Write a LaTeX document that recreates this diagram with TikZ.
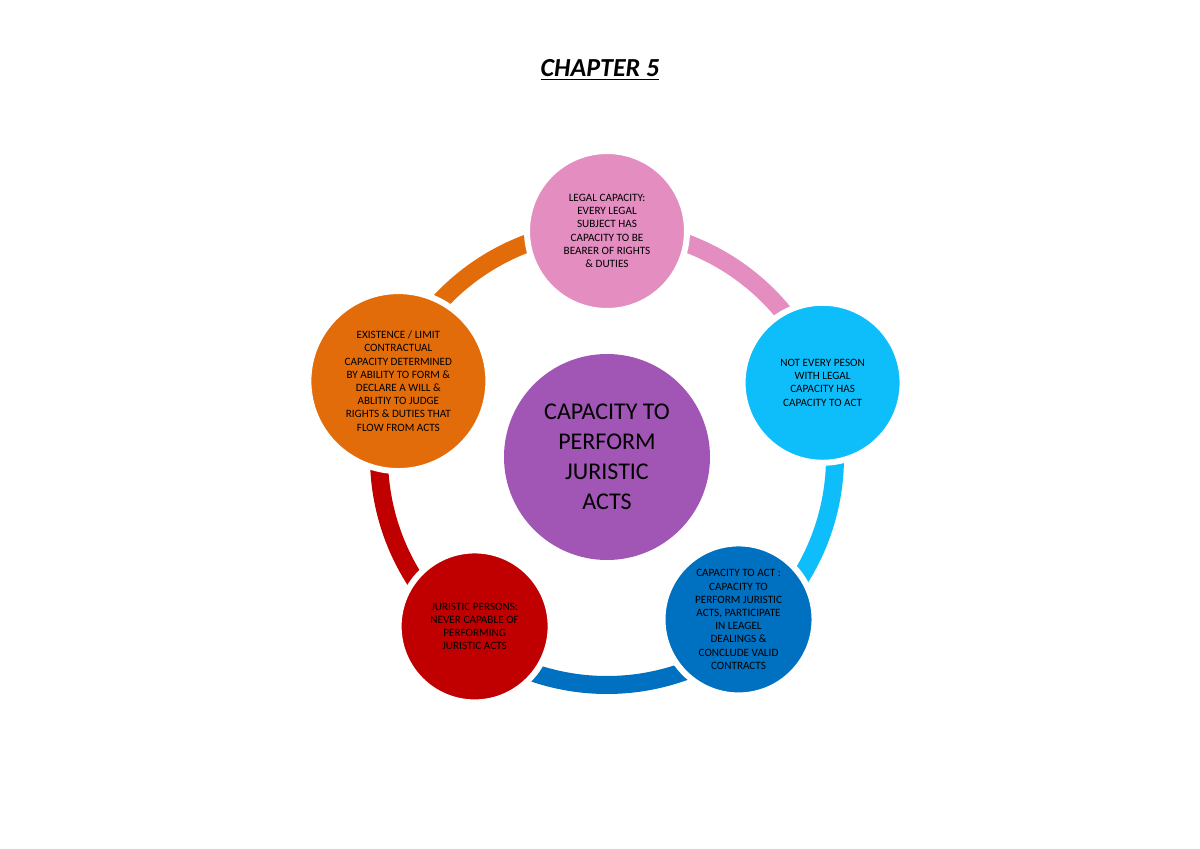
\documentclass[tikz,border=0pt]{standalone}
\usepackage{fontspec}
\setmainfont{Carlito}
\usetikzlibrary{calc}
\definecolor{cpink}{RGB}{227,141,192}
\definecolor{ccyan}{RGB}{14,190,250}
\definecolor{cblue}{RGB}{0,112,192}
\definecolor{cred}{RGB}{192,0,0}
\definecolor{corange}{RGB}{227,108,10}
\definecolor{cpurple}{RGB}{161,85,181}
\begin{document}
\begin{tikzpicture}[x=0.5pt,y=0.5pt,
  bub/.style={circle,draw=white,line width=3pt,inner sep=0pt,align=center,font=\fontsize{5.6}{6.6}\selectfont},
  ring/.style={line width=9pt}]
\useasboundingbox (0,0) rectangle (1200,848);
\coordinate (C) at (607,391);
\node[font=\fontsize{13}{15}\selectfont\bfseries\itshape] (title) at (600,778) {\underline{CHAPTER 5}};
\draw[ring,cpink] ($(C)+(90:228)$) arc (90:18:228);
\draw[ring,ccyan] ($(C)+(18:228)$) arc (18:-54:228);
\draw[ring,cblue] ($(C)+(-54:228)$) arc (-54:-126:228);
\draw[ring,cred] ($(C)+(-126:228)$) arc (-126:-198:228);
\draw[ring,corange] ($(C)+(162:228)$) arc (162:90:228);
\node[circle,fill=cpurple,minimum size=103pt,inner sep=0pt,align=center,font=\fontsize{12}{15}\selectfont] (mid) at (C) {CAPACITY TO\\PERFORM\\JURISTIC\\ACTS};
\node[bub,fill=cpink,minimum size=80pt] (top) at ($(C)+(90:226)$) {LEGAL CAPACITY:\\EVERY LEGAL\\SUBJECT HAS\\CAPACITY TO BE\\BEARER OF RIGHTS\\\& DUTIES};
\node[bub,fill=ccyan,minimum size=80pt] (right) at ($(C)+(19:228)$) {NOT EVERY PESON\\WITH LEGAL\\CAPACITY HAS\\CAPACITY TO ACT};
\node[bub,fill=cblue,minimum size=76pt] (br) at ($(C)+(-51:209)$) {CAPACITY TO ACT :\\CAPACITY TO\\PERFORM JURISTIC\\ACTS, PARTICIPATE\\IN LEAGEL\\DEALINGS \&\\CONCLUDE VALID\\CONTRACTS};
\node[bub,fill=cred,minimum size=76pt] (bl) at ($(C)+(-128:215)$) {JURISTIC PERSONS:\\NEVER CAPABLE OF\\PERFORMING\\JURISTIC ACTS};
\node[bub,fill=corange,minimum size=90pt] (left) at ($(C)+(160:222)$) {EXISTENCE / LIMIT\\CONTRACTUAL\\CAPACITY DETERMINED\\BY ABILITY TO FORM \&\\DECLARE A WILL \&\\ABLITIY TO JUDGE\\RIGHTS \& DUTIES THAT\\FLOW FROM ACTS};
\end{tikzpicture}
\end{document}
